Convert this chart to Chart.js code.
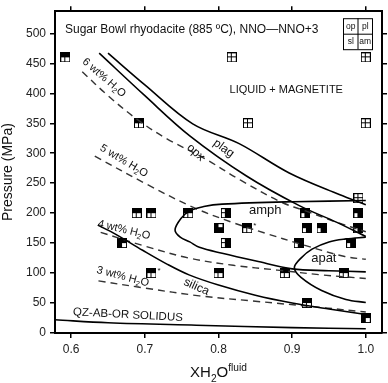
<!DOCTYPE html>
<html><head><meta charset="utf-8">
<script src="https://cdn.jsdelivr.net/npm/chart.js@4.4.1/dist/chart.umd.min.js"></script>
<style>html,body{margin:0;padding:0;background:#fff}</style>
</head><body>
<canvas id="c" width="388" height="383"></canvas>
<script>
// ---------- tick labels ----------
const xTicks = [0.6, 0.7, 0.8, 0.9, 1.0];
const yTicks = [0, 50, 100, 150, 200, 250, 300, 350, 400, 450, 500];

// ---------- phase boundaries (solid) ----------
const plagX = [0.650, 0.700, 0.765, 0.828, 0.896, 0.964, 1.000];
const plagY = [467, 414, 349, 316, 267, 231, 214];
const opxX  = [0.638, 0.700, 0.761, 0.838, 0.909, 0.960, 1.000];
const opxY  = [467, 396, 329, 262, 213, 185, 161];
const amphX = [1.000, 0.900, 0.805, 0.780, 0.761, 0.749, 0.741, 0.748, 0.761, 0.774, 0.805, 0.851, 0.900, 0.950, 1.000];
const amphY = [221, 219, 215, 211, 204, 191, 172, 160, 152, 143, 133, 120, 107, 104, 102];
const apatX = [1.000, 0.973, 0.950, 0.927, 0.912, 0.903, 0.912, 0.940, 0.973, 1.000];
const apatY = [160, 157, 152, 140, 125, 109, 93, 71, 56, 51];
const silicaX = [0.636, 0.660, 0.697, 0.730, 0.760, 0.800, 0.850, 0.900, 0.950, 1.000];
const silicaY = [180, 165, 138, 115, 97, 80, 63, 50, 40, 31];
const solidusX = [0.578, 0.650, 0.770, 0.900, 1.000];
const solidusY = [22, 17, 13, 9, 7];

// ---------- H2O isopleths (dashed) ----------
const h2o6X = [0.615, 0.650, 0.690, 0.730, 0.780, 0.830, 0.886, 0.920, 0.960, 1.000];
const h2o6Y = [436, 396, 356, 324, 292, 255, 218, 203, 185, 169];
const h2o5X = [0.632, 0.703, 0.765, 0.820, 0.865, 0.910, 0.970, 1.000];
const h2o5Y = [295, 248, 210, 184, 166, 149, 128, 123];
const h2o4X = [0.640, 0.700, 0.760, 0.820, 0.880, 0.940, 1.000];
const h2o4Y = [168, 145, 125, 113, 105, 97, 91];
const h2o3X = [0.637, 0.700, 0.774, 0.850, 0.936, 1.000];
const h2o3Y = [87, 75, 62, 53, 43, 35];

// ---------- experiments: phases op, pl, sl, am (1 = present) ----------
const expX = [0.592, 0.818, 1.000, 0.692, 0.840, 1.000, 0.990,
              0.689, 0.709, 0.759, 0.810, 0.918, 0.990,
              0.800, 0.839, 0.920, 0.940, 0.990,
              0.669, 0.810, 0.909, 0.980,
              0.709, 0.800, 0.890, 0.970,
              0.920, 1.000];
const expP = [460, 460, 460, 350, 350, 350, 225,
              200, 200, 200, 200, 200, 200,
              175, 175, 175, 175, 175,
              150, 150, 150, 150,
              100, 100, 100, 100,
              50, 25];
const expPhases = ['1100', '0000', '0000', '1100', '0000', '0000', '0000',
                   '1100', '1100', '1100', '0101', '1101', '1101',
                   '1011', '1100', '1101', '1101', '1101',
                   '1110', '0101', '1101', '1101',
                   '1100', '1100', '1100', '1100',
                   '1100', '1110'];
const expStar = [0,0,0,0,0,0,0, 0,0,0,0,0,0, 0,1,0,0,0, 0,0,0,0, 1,0,0,0, 0,0];

const FONT = "'Liberation Sans', Arial, Helvetica, sans-serif";

function pts(xs, ys) { return xs.map((x, i) => ({x: x, y: ys[i]})); }

function makeMarker(p) {
  const c = document.createElement('canvas'); c.width = 10; c.height = 10;
  const g = c.getContext('2d');
  g.fillStyle = '#fff'; g.fillRect(0, 0, 10, 10);
  g.fillStyle = '#000';
  const q = [[0, 0], [5, 0], [0, 5], [5, 5]];
  for (let i = 0; i < 4; i++) if (p[i] === '1') g.fillRect(q[i][0], q[i][1], 5, 5);
  g.strokeStyle = '#000'; g.lineWidth = 1;
  g.strokeRect(0.5, 0.5, 9, 9);
  g.beginPath(); g.moveTo(4.5, 0); g.lineTo(4.5, 10); g.moveTo(0, 4.5); g.lineTo(10, 4.5); g.stroke();
  return c;
}

function solid(xs, ys) {
  return {data: pts(xs, ys), showLine: true, pointRadius: 0, borderColor: '#000', borderWidth: 1.6, tension: 0.35, fill: false};
}
function dashed(xs, ys) {
  return {data: pts(xs, ys), showLine: true, pointRadius: 0, borderColor: '#333', borderWidth: 1.4, borderDash: [7, 5], tension: 0.35, fill: false};
}

// text annotations (data coordinates)
const notes = [
  {parts: [['plag']], x: 0.807, y: 308, rot: 36, size: 12},
  {parts: [['opx']], x: 0.769, y: 301, rot: 42, size: 12},
  {parts: [['amph']], x: 0.8635, y: 204, rot: 0, size: 13},
  {parts: [['apat']], x: 0.943, y: 125, rot: 0, size: 13},
  {parts: [['silica']], x: 0.770, y: 77, rot: 24, size: 12},
  {parts: [['6 wt% H'], ['2', 'sub'], ['O']], x: 0.6446, y: 426, rot: 41, size: 11},
  {parts: [['5 wt% H'], ['2', 'sub'], ['O']], x: 0.6716, y: 287, rot: 31, size: 11},
  {parts: [['4 wt% H'], ['2', 'sub'], ['O']], x: 0.6716, y: 172, rot: 14, size: 11},
  {parts: [['3 wt% H'], ['2', 'sub'], ['O']], x: 0.670, y: 94, rot: 15, size: 11},
  {parts: [['LIQUID + MAGNETITE']], x: 0.892, y: 406, rot: 0, size: 11},
  {parts: [['QZ-AB-OR SOLIDUS']], x: 0.677, y: 30, rot: 3, size: 11.5}
];

function richWidth(ctx, parts, size) {
  let w = 0;
  for (const p of parts) {
    const s = p[1] ? size * 0.68 : size;
    ctx.font = s + 'px ' + FONT;
    w += ctx.measureText(p[0]).width;
  }
  return w;
}
function drawRich(ctx, parts, size, x0, y0) {
  let x = x0;
  for (const p of parts) {
    const s = p[1] ? size * 0.68 : size;
    ctx.font = s + 'px ' + FONT;
    let dy = 0;
    if (p[1] === 'sub') dy = size * 0.3;
    if (p[1] === 'sup') dy = -size * 0.42;
    ctx.fillText(p[0], x, y0 + dy);
    x += ctx.measureText(p[0]).width;
  }
}

const decor = {
  id: 'decor',
  afterDatasetsDraw(chart) {
    const ctx = chart.ctx, xs = chart.scales.x, ys = chart.scales.y, a = chart.chartArea;
    ctx.save();
    ctx.fillStyle = '#111';
    ctx.textBaseline = 'middle';
    ctx.textAlign = 'left';
    for (const n of notes) {
      const px = xs.getPixelForValue(n.x), py = ys.getPixelForValue(n.y);
      ctx.save();
      ctx.translate(px, py);
      ctx.rotate(n.rot * Math.PI / 180);
      const w = richWidth(ctx, n.parts, n.size);
      drawRich(ctx, n.parts, n.size, -w / 2, 0);
      ctx.restore();
    }
    // asterisks
    ctx.font = '8px ' + FONT;
    for (let i = 0; i < expX.length; i++) {
      if (!expStar[i]) continue;
      const px = xs.getPixelForValue(expX[i]), py = ys.getPixelForValue(expP[i]);
      ctx.fillText('*', px + 6, py - 2);
    }
    // title
    ctx.font = '12px ' + FONT;
    ctx.fillText('Sugar Bowl rhyodacite (885 ºC), NNO\u2014NNO+3', a.left + 10, a.top + 18);
    // legend key box
    const bx = a.right - 39, by = a.top + 7, cw = 14.5, ch = 15.5;
    ctx.strokeStyle = '#000'; ctx.lineWidth = 1;
    ctx.strokeRect(bx + 0.5, by + 0.5, cw * 2, ch * 2);
    ctx.beginPath();
    ctx.moveTo(bx + cw + 0.5, by); ctx.lineTo(bx + cw + 0.5, by + ch * 2);
    ctx.moveTo(bx, by + ch + 0.5); ctx.lineTo(bx + cw * 2, by + ch + 0.5);
    ctx.stroke();
    ctx.font = '8.5px ' + FONT; ctx.textAlign = 'center';
    const lab = ['op', 'pl', 'sl', 'am'];
    for (let i = 0; i < 4; i++) {
      const cx = bx + cw * (i % 2) + cw / 2 + 0.5, cy = by + ch * Math.floor(i / 2) + ch / 2 + 0.5;
      ctx.fillText(lab[i], cx, cy);
    }
    // x axis title with subscript / superscript
    const parts = [['XH'], ['2', 'sub'], ['O'], ['fluid', 'sup']];
    ctx.textAlign = 'left'; ctx.textBaseline = 'alphabetic';
    const w = richWidth(ctx, parts, 15);
    drawRich(ctx, parts, 15, (a.left + a.right) / 2 - w / 2, 377);
    ctx.restore();
  }
};

const tickFont = {family: FONT, size: 12};
const gridOpts = {display: true, drawOnChartArea: false, drawTicks: true, tickLength: 5, color: '#000', lineWidth: 1.5};
const borderOpts = {display: true, color: '#000', width: 2};

new Chart(document.getElementById('c'), {
  type: 'scatter',
  data: {
    datasets: [
      solid(plagX, plagY), solid(opxX, opxY), solid(amphX, amphY), solid(apatX, apatY),
      solid(silicaX, silicaY), solid(solidusX, solidusY),
      dashed(h2o6X, h2o6Y), dashed(h2o5X, h2o5Y), dashed(h2o4X, h2o4Y), dashed(h2o3X, h2o3Y),
      {data: pts(expX, expP), showLine: false, pointStyle: expPhases.map(makeMarker), pointRadius: 5, pointHoverRadius: 5}
    ]
  },
  options: {
    responsive: false, animation: false, devicePixelRatio: 1,
    layout: {padding: 0},
    plugins: {legend: {display: false}, tooltip: {enabled: false}},
    scales: {
      x: {type: 'linear', position: 'bottom', min: 0.578, max: 1.022,
          afterBuildTicks: s => { s.ticks = xTicks.map(v => ({value: v})); },
          afterFit: s => { s.height = 50; },
          ticks: {font: tickFont, color: '#222', padding: 4, callback: v => Number(v).toFixed(1)},
          grid: gridOpts, border: borderOpts},
      x2: {type: 'linear', position: 'top', min: 0.578, max: 1.022,
          afterBuildTicks: s => { s.ticks = xTicks.map(v => ({value: v})); },
          afterFit: s => { s.height = 5; },
          ticks: {display: false}, grid: gridOpts, border: borderOpts},
      y: {type: 'linear', position: 'left', min: 0, max: 537,
          afterBuildTicks: s => { s.ticks = yTicks.map(v => ({value: v})); },
          afterFit: s => { s.width = 55; },
          title: {display: true, text: 'Pressure (MPa)', font: {family: FONT, size: 14}, color: '#111', padding: {top: 0, bottom: 0}},
          ticks: {font: tickFont, color: '#222', padding: 4, callback: v => String(v)},
          grid: gridOpts, border: borderOpts},
      y2: {type: 'linear', position: 'right', min: 0, max: 537,
          afterBuildTicks: s => { s.ticks = yTicks.map(v => ({value: v})); },
          afterFit: s => { s.width = 5; },
          ticks: {display: false}, grid: gridOpts, border: borderOpts}
    }
  },
  plugins: [decor]
});
</script>
</body></html>
